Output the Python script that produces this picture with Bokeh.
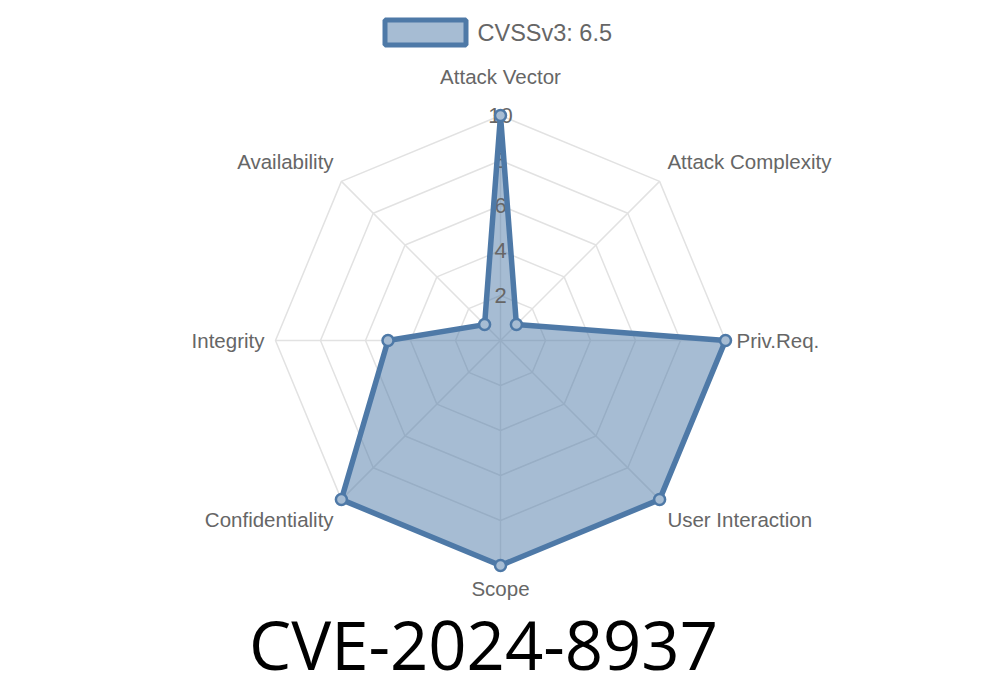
import math
from bokeh.plotting import figure
from bokeh.models import Range1d
from bokeh.core.properties import value
from bokeh.embed import file_html
from bokeh.resources import INLINE

# ---- data ----
axes_labels = ["Attack Vector", "Attack Complexity", "Priv.Req.", "User Interaction",
               "Scope", "Confidentiality", "Integrity", "Availability"]
scores = [10, 1, 10, 10, 10, 10, 5, 1]
tick_values = [2, 4, 6, 8, 10]
tick_labels = ["2", "4", "6", "8", "10"]
legend_label = "CVSSv3: 6.5"
title_text = "CVE-2024-8937"

# ---- layout ----
W, H = 1000, 700
OFF = 0              # page offset of the figure
PX = 22.5            # pixels per score unit
CX, CY = 500, 340    # centre in page pixels
R_MAX = 10

def px(x, y):
    """page pixel -> data units"""
    return (x - CX) / PX, (CY - y) / PX

BLUE = "#4e79a7"
FILL = "#a6bcd3"
GRID = "#e2e2e2"
TXT = "#666666"
FONT = "Liberation Sans"

p = figure(width=W, height=H, output_backend="svg", toolbar_location=None,
           x_axis_type=None, y_axis_type=None,
           x_range=Range1d(-(CX - OFF) / PX, (W - (CX - OFF)) / PX),
           y_range=Range1d(-(H - (CY - OFF)) / PX, (CY - OFF) / PX),
           min_border=0)
p.outline_line_color = None
p.grid.visible = False
p.background_fill_color = "white"

n = len(axes_labels)
angles = [math.pi / 2 - i * 2 * math.pi / n for i in range(n)]

# grid rings
for tv in tick_values:
    xs = [tv * math.cos(a) for a in angles] + [tv * math.cos(angles[0])]
    ys = [tv * math.sin(a) for a in angles] + [tv * math.sin(angles[0])]
    p.line(xs, ys, line_color=GRID, line_width=1.5)
# spokes
for a in angles:
    p.line([0, R_MAX * math.cos(a)], [0, R_MAX * math.sin(a)], line_color=GRID, line_width=1.5)

# data polygon
dx = [s * math.cos(a) for s, a in zip(scores, angles)]
dy = [s * math.sin(a) for s, a in zip(scores, angles)]
p.patch(dx, dy, fill_color=BLUE, fill_alpha=0.5, line_color=None)

# tick labels
p.text(x=[0] * len(tick_values), y=tick_values, text=tick_labels,
       text_font=value(FONT), text_font_size="22px", text_color=TXT,
       text_align="center", text_baseline="middle")

p.line(dx + [dx[0]], dy + [dy[0]], line_color=BLUE, line_width=5.5, line_join="round")
p.scatter(dx, dy, size=11, fill_color=FILL, line_color=BLUE, line_width=2.5)

# axis labels
R_LBL = 236 / PX
for lbl, a in zip(axes_labels, angles):
    c, s = math.cos(a), math.sin(a)
    if abs(c) < 1e-6:
        x = 0
        y = (264 if s > 0 else 248) / PX * (1 if s > 0 else -1)
        align = "center"
    else:
        x = R_LBL * c
        y = R_LBL * s
        if abs(s) > 1e-6:
            y += (12 / PX) * (1 if s > 0 else -1)
        align = "left" if c > 0 else "right"
    p.text(x=[x], y=[y], text=[lbl], text_font=value(FONT), text_font_size="20.5px",
           text_color=TXT, text_align=align, text_baseline="middle")

# legend
l, t = px(384.5, 19.5)
r, b = px(465.5, 44.5)
p.quad(left=[l], right=[r], top=[t], bottom=[b], fill_color=FILL,
       line_color=BLUE, line_width=5)
lx, ly = px(477, 32)
p.text(x=[lx], y=[ly], text=[legend_label], text_font=value(FONT), text_font_size="23.5px",
       text_color=TXT, text_align="left", text_baseline="middle")

# big title
tx, ty = px(483, 643)
p.text(x=[tx], y=[ty], text=[title_text], text_font=value("Open Sans"), text_font_size="67px",
       text_color="black", text_align="center", text_baseline="middle")

open("out.html", "w").write(file_html(p, INLINE))
